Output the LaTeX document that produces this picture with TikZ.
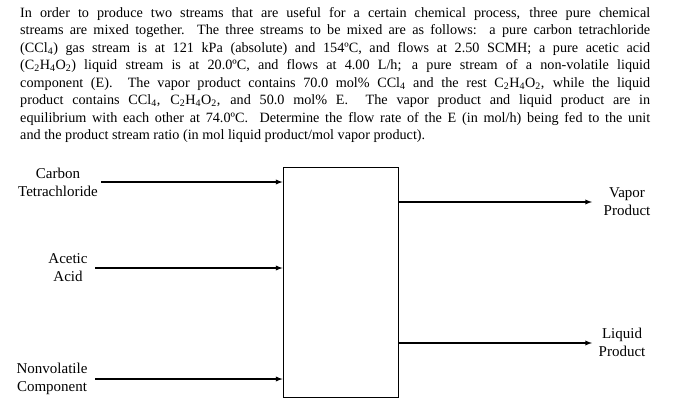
\documentclass[tikz,border=0pt]{standalone}
\usepackage{fontspec}
\setmainfont{Liberation Serif}
\begin{document}
\begin{tikzpicture}[x=1pt,y=-1pt,
  lbl/.style={font=\fontsize{15}{18}\selectfont,align=center,inner sep=0},
  flow/.style={line width=1.3pt,-latex}]
\useasboundingbox (0,0) rectangle (675,407);
\node[anchor=north west,inner sep=0,text width=630pt,align=justify,
  font=\fontsize{14.2}{17.5}\selectfont] (txt) at (20,7)
{In order to produce two streams that are useful for a certain chemical process, three pure chemical\linebreak streams are mixed together.\ \ The three streams to be mixed are as follows:\ \ a pure carbon tetrachloride\linebreak (CCl\textsubscript{4}) gas stream is at 121 kPa (absolute) and 154ºC, and flows at 2.50 SCMH; a pure acetic acid\linebreak (C\textsubscript{2}H\textsubscript{4}O\textsubscript{2}) liquid stream is at 20.0ºC, and flows at 4.00 L/h; a pure stream of a non-volatile liquid\linebreak component (E).\ \ The vapor product contains 70.0 mol\% CCl\textsubscript{4} and the rest C\textsubscript{2}H\textsubscript{4}O\textsubscript{2}, while the liquid\linebreak product contains CCl\textsubscript{4}, C\textsubscript{2}H\textsubscript{4}O\textsubscript{2}, and 50.0 mol\% E.\ \ The vapor product and liquid product are in\linebreak equilibrium with each other at 74.0ºC.\ \ Determine the flow rate of the E (in mol/h) being fed to the unit\linebreak and the product stream ratio (in mol liquid product/mol vapor product).\par};
\node[draw,line width=0.8pt,minimum width=115pt,minimum height=230pt,inner sep=0] (box) at (340.5,282) {};
\node[lbl] (ccl) at (58,182) {Carbon\\Tetrachloride};
\node[lbl] (aa) at (68,268) {Acetic\\Acid};
\node[lbl] (nv) at (52,379) {Nonvolatile\\Component};
\node[lbl] (vp) at (627,202) {Vapor\\Product};
\node[lbl] (lp) at (622,342) {Liquid\\Product};
\coordinate (vpe) at (592,202);
\coordinate (lpe) at (592,343);
\draw[flow] (101,182) -- (box.west |- 0,182);
\draw[flow] (95,268) -- (box.west |- 0,268);
\draw[flow] (95,379) -- (box.west |- 0,379);
\draw[flow] (box.east |- vpe) -- (vpe);
\draw[flow] (box.east |- lpe) -- (lpe);
\end{tikzpicture}
\end{document}
